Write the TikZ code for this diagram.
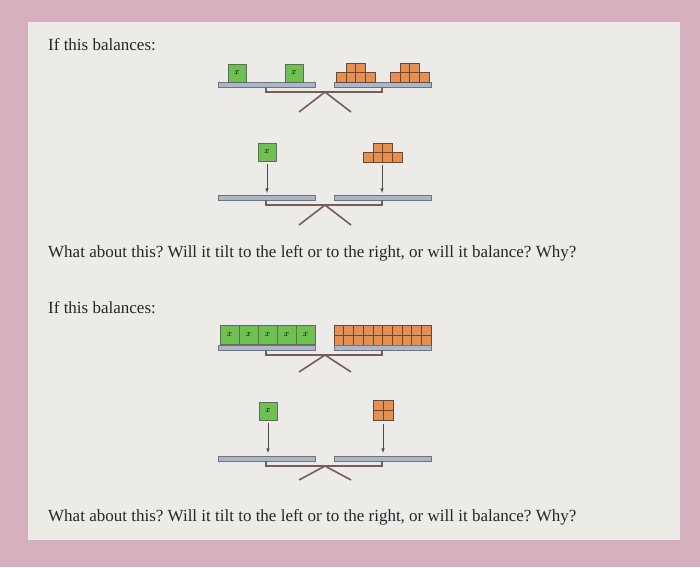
\documentclass[tikz,border=0pt]{standalone}
\usepackage{fontspec}
\setmainfont{Liberation Serif}
\frenchspacing
\definecolor{bgpink}{RGB}{214,176,190}
\definecolor{panel}{RGB}{236,235,232}
\definecolor{grn}{RGB}{110,192,80}
\definecolor{org}{RGB}{232,144,80}
\definecolor{beam}{RGB}{170,182,204}
\definecolor{brn}{RGB}{120,92,88}
\tikzset{
 txt/.style={anchor=west,inner sep=0,font=\fontsize{17}{19}\selectfont,text=black!85},
 gbox/.style={draw=black!60,fill=grn,minimum width=18pt,minimum height=18pt,inner sep=0,line width=0.6pt,font=\itshape\fontsize{9}{9}\selectfont},
 obox/.style={draw=brn!80!black,fill=org,line width=0.5pt},
 pan/.style={draw=black!55,fill=beam,line width=0.5pt},
 brk/.style={draw=brn,line width=1.6pt},
 arr/.style={draw=black!70,line width=0.6pt,-latex}
}
\newcommand{\pyr}[2]{% left x, bottom y
 \foreach \i in {0,...,3}{\draw[obox] (#1+\i*9.75,#2) rectangle ++(9.75,-9.5);}
 \foreach \i in {1,2}{\draw[obox] (#1+\i*9.75,#2-9.5) rectangle ++(9.75,-9.5);}}
\newcommand{\scalebase}[2]{% beam y, fulcrum bottom offset
 \draw[pan] (218,#1) rectangle (315,#1+5);
 \draw[pan] (334,#1) rectangle (431,#1+5);
 \draw[brk] (266,#1+5) -- (266,#1+10) -- (382,#1+10) -- (382,#1+5);
 \draw[brk] (299,#1+#2) -- (325,#1+10) -- (351,#1+#2);}
\begin{document}
\begin{tikzpicture}[x=1pt,y=-1pt]
\useasboundingbox (0,0) rectangle (700,567);
\fill[bgpink] (0,0) rectangle (700,567);
\fill[panel] (28,22) rectangle (680,540);
\node[txt] (t1) at (48,45) {If this balances:};
% scale 1
\scalebase{82}{30}
\node[gbox] (g1) at (237,73) {$x$};
\node[gbox] (g2) at (294,73) {$x$};
\pyr{336}{82}
\pyr{390}{82}
% scale 2
\node[gbox] (g3) at (267,152) {$x$};
\pyr{363}{162}
\coordinate (p2) at (267,193); \coordinate (p3) at (382,193);
\coordinate (o2) at (382,165);
\draw[arr] (g3.south)++(0,3) -- (p2);
\draw[arr] (o2) -- (p3);
\scalebase{195}{30}
\node[txt] (t2) at (48,253) {What about this? Will it tilt to the left or to the right, or will it balance? Why?};
\node[txt] (t3) at (48,308) {If this balances:};
% scale 3
\foreach \i in {0,...,4}{\node[gbox,minimum width=19pt,minimum height=19pt] (gg\i) at (229.5+\i*19,335) {$x$};}
\foreach \i in {0,...,9}{\foreach \j in {0,1}{\draw[obox] (334+\i*9.7,325+\j*10) rectangle ++(9.7,10);}}
\scalebase{345}{27}
% scale 4
\node[gbox] (g4) at (268,411) {$x$};
\foreach \i in {0,1}{\foreach \j in {0,1}{\draw[obox] (373+\i*10,400+\j*10) rectangle ++(10,10);}}
\coordinate (o4) at (383,424); \coordinate (q4) at (383,453);
\coordinate (q3) at (268,453);
\draw[arr] (g4.south)++(0,3) -- (q3);
\draw[arr] (o4) -- (q4);
\scalebase{456}{24}
\node[txt] (t4) at (48,517) {What about this? Will it tilt to the left or to the right, or will it balance? Why?};
\end{tikzpicture}
\end{document}
